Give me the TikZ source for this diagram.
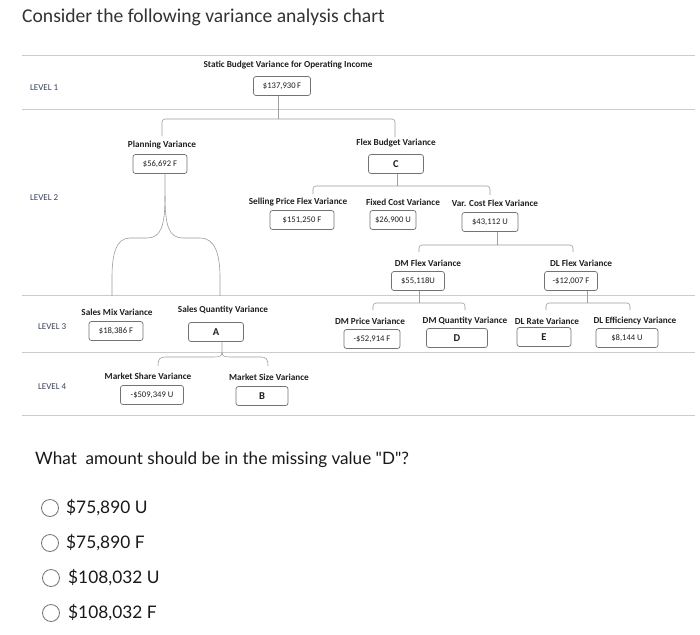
\documentclass[tikz,border=0pt]{standalone}
\usepackage{fontspec}
\setmainfont{Carlito}
\newfontfamily\latofont{Lato}
\begin{document}
\begin{tikzpicture}[x=1pt,y=-1pt,
  lab/.style={font=\bfseries\fontsize{9.2}{10}\selectfont, text=black!88, inner sep=0pt},
  vbox/.style={draw=black!55, rounded corners=2.5pt, minimum height=19pt, font=\fontsize{8.6}{10}\selectfont, text=black!88, inner sep=0pt, line width=0.7pt},
  letter/.style={font=\bfseries\fontsize{10.5}{11}\selectfont},
  lvl/.style={font=\fontsize{9}{10}\selectfont, text={rgb,255:red,55;green,65;blue,95}, anchor=west, inner sep=0pt},
  sep/.style={draw=black!20, line width=0.8pt},
  conn/.style={draw=black!38, line width=0.6pt, rounded corners=3pt},
  curv/.style={draw=black!38, line width=0.6pt},
  opt/.style={circle, draw=black!55, line width=0.8pt, minimum size=17pt, inner sep=0pt},
  opttext/.style={anchor=west, font=\latofont\fontsize{17.3}{19}\selectfont, text=black!90, inner sep=0pt}]
\useasboundingbox (0,0) rectangle (700,634);
\fill[white] (0,0) rectangle (700,634);

% title
\node[anchor=west, inner sep=0pt, font=\fontsize{19.6}{22}\selectfont, text=black!80] (title) at (22,17) {Consider the following variance analysis chart};

% separators
\foreach \yy in {55,109,295,352,415} \draw[sep] (22,\yy) -- (695,\yy);

% level labels
\node[lvl] (lv1) at (30,88) {LEVEL 1};
\node[lvl] (lv2) at (30,198) {LEVEL 2};
\node[lvl] (lv3) at (38,327) {LEVEL 3};
\node[lvl] (lv4) at (38,387) {LEVEL 4};

% level 1
\node[lab] (lsbv) at (288,65) {Static Budget Variance for Operating Income};
\node[vbox, minimum width=57pt] (bsbv) at (282,86) {\$137,930\,F};

% level 2
\node[lab] (lplan) at (162,145) {Planning Variance};
\node[vbox, minimum width=54pt] (bplan) at (160,164) {\$56,692 F};
\node[lab] (lflex) at (396,143) {Flex Budget Variance};
\node[vbox, letter, minimum width=55pt] (bflex) at (396,164) {C};
\node[lab] (lsell) at (298,202) {Selling Price Flex Variance};
\node[vbox, minimum width=64pt] (bsell) at (302,220) {\$151,250 F};
\node[lab] (lfix) at (403,202) {Fixed Cost Variance};
\node[vbox, minimum width=46pt] (bfix) at (393,220) {\$26,900 U};
\node[lab] (lvar) at (495,203) {Var. Cost Flex Variance};
\node[vbox, minimum width=56pt] (bvar) at (490,222) {\$43,112 U};
\node[lab] (ldm) at (428,263) {DM Flex Variance};
\node[vbox, minimum width=53pt] (bdm) at (418,281) {\$55,118U};
\node[lab] (ldl) at (581,263) {DL Flex Variance};
\node[vbox, minimum width=53pt] (bdl) at (571,281) {-\$12,007 F};

% level 3
\node[lab] (lmix) at (117,312) {Sales Mix Variance};
\node[vbox, minimum width=54pt] (bmix) at (116,331) {\$18,386 F};
\node[lab] (lsq) at (223,310) {Sales Quantity Variance};
\node[vbox, letter, minimum width=55pt] (bsq) at (216,332) {A};
\node[lab] (ldmp) at (370,321) {DM Price Variance};
\node[vbox, minimum width=56pt] (bdmp) at (372,339) {-\$52,914 F};
\node[lab] (ldmq) at (465,321) {DM Quantity Variance};
\node[vbox, letter, minimum width=61pt] (bdmq) at (457,338) {D};
\node[lab] (ldlr) at (547,321) {DL Rate Variance};
\node[vbox, letter, minimum width=54pt] (bdlr) at (544,337) {E};
\node[lab] (ldle) at (635,321) {DL Efficiency Variance};
\node[vbox, minimum width=62pt] (bdle) at (627,338) {\$8,144 U};

% level 4
\node[lab] (lms) at (148,376) {Market Share Variance};
\node[vbox, minimum width=63pt] (bms) at (152,395) {-\$509,349 U};
\node[lab] (lmsz) at (269,377) {Market Size Variance};
\node[vbox, letter, minimum width=52pt] (bmsz) at (262,396) {B};

% connectors level 1
\coordinate (j1) at (278,119);
\coordinate (d1a) at (162,136);
\coordinate (d1b) at (395,137);
\draw[conn] (bsbv.south -| j1) -- (j1);
\draw[conn] (d1a) |- (j1);
\draw[conn] (d1b) |- (j1);

% flex budget
\coordinate (j2) at (397,186);
\coordinate (d2a) at (313,194);
\coordinate (d2b) at (490,195);
\draw[conn] (bflex.south -| j2) -- (j2);
\draw[conn] (d2a) |- (j2);
\draw[conn] (d2b) |- (j2);

% var cost
\coordinate (j3) at (497,245);
\coordinate (d3a) at (419,252);
\coordinate (d3b) at (573,252);
\draw[conn] (bvar.south -| j3) -- (j3);
\draw[conn] (d3a) |- (j3);
\draw[conn] (d3b) |- (j3);

% DM flex
\coordinate (j4) at (419,303);
\coordinate (d4a) at (373,310);
\coordinate (d4b) at (465,310);
\draw[conn] (bdm.south -| j4) -- (j4);
\draw[conn] (d4a) |- (j4);
\draw[conn] (d4b) |- (j4);

% DL flex
\coordinate (j5) at (587,303);
\coordinate (d5a) at (546,310);
\coordinate (d5b) at (630,310);
\draw[conn] (bdl.south -| j5) -- (j5);
\draw[conn] (d5a) |- (j5);
\draw[conn] (d5b) |- (j5);

% planning brace
\coordinate (p0) at (165,196);
\coordinate (pl) at (112,296);
\coordinate (pr) at (220,296);
\draw[curv] (bplan.south -| p0) -- (p0) .. controls (165,226) and (161,238) .. (147,238) -- (130,238) .. controls (116,238) and (112,254) .. (112,278) -- (pl);
\draw[curv] (p0) .. controls (165,226) and (169,238) .. (183,238) -- (200,238) .. controls (215,238) and (220,254) .. (220,278) -- (pr);

% sales quantity brace
\coordinate (q0) at (222,352);
\coordinate (ql) at (158,366);
\coordinate (qr) at (268,366);
\draw[curv] (bsq.south -| q0) -- (q0) .. controls (222,356) and (220,357) .. (214,357) -- (165,357) .. controls (160,357) and (158,359) .. (ql);
\draw[curv] (q0) .. controls (222,356) and (224,357) .. (230,357) -- (261,357) .. controls (266,357) and (268,359) .. (qr);

% question
\node[anchor=west, inner sep=0pt, font=\latofont\fontsize{17.1}{19}\selectfont, text=black!90] (q) at (35,460) {What\ \ amount should be in the missing value "D"?};
\node[opt] (o1) at (50,508) {};
\node[opttext] (t1) at (66,508) {\$75,890 U};
\node[opt] (o2) at (50,543) {};
\node[opttext] (t2) at (66,543) {\$75,890 F};
\node[opt] (o3) at (51,578) {};
\node[opttext] (t3) at (68,578) {\$108,032 U};
\node[opt] (o4) at (51,613) {};
\node[opttext] (t4) at (68,613) {\$108,032 F};
\end{tikzpicture}
\end{document}
